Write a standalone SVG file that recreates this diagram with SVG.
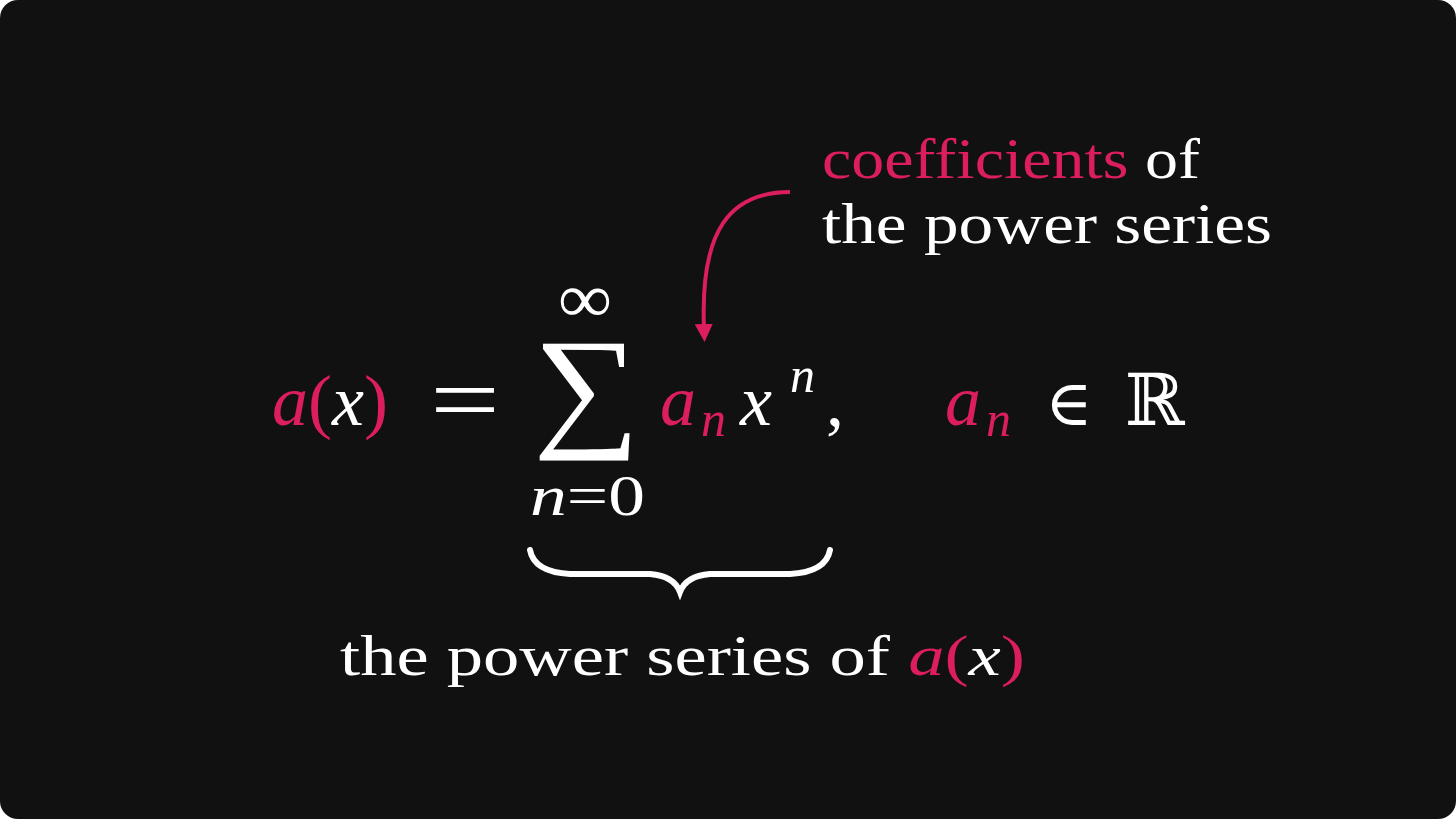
<svg xmlns="http://www.w3.org/2000/svg" width="1456" height="819" viewBox="0 0 1456 819">
<style>
.t{font-family:"Liberation Serif","DejaVu Serif",serif;fill:#fff}
.i{font-style:italic}
.p{fill:#dd1e5e}
</style>
<defs><marker id="ah" markerWidth="18" markerHeight="18" refX="4" refY="9" orient="auto" markerUnits="userSpaceOnUse"><path d="M0,0 L18,9 L0,18 Z" fill="#dd1e5e"/></marker></defs>
<rect width="1456" height="819" fill="#fff"/>
<rect width="1456" height="819" rx="18" fill="#111"/>
<g id="equation">
<text class="t" x="272" y="425" font-size="72"><tspan class="i p">a</tspan><tspan class="p">(</tspan><tspan class="i">x</tspan><tspan class="p">)</tspan></text>
<text class="t" x="430" y="432" font-size="96" textLength="70" lengthAdjust="spacingAndGlyphs">=</text>
<text class="t" x="533" y="432" font-size="135" textLength="107" lengthAdjust="spacingAndGlyphs">∑</text>
<text class="t" x="558" y="322" font-size="70" textLength="54" lengthAdjust="spacingAndGlyphs">∞</text>
<text class="t" x="530" y="515" font-size="56" textLength="115" lengthAdjust="spacingAndGlyphs"><tspan class="i">n</tspan>=0</text>
<text class="t i p" x="660" y="425" font-size="72">a</text>
<text class="t i p" x="701" y="436" font-size="50">n</text>
<text class="t i" x="740" y="425" font-size="72">x</text>
<text class="t i" x="790" y="392" font-size="50">n</text>
<text class="t" x="826" y="425" font-size="72">,</text>
<text class="t i p" x="945" y="425" font-size="72">a</text>
<text class="t i p" x="986" y="436" font-size="50">n</text>
<text class="t" x="1045" y="425" font-size="64">∈</text>
<text class="t" x="1125" y="425" font-size="72">ℝ</text>
</g>
<g id="brace">
<path d="M530,550 Q534,572 570,574 L650,574 Q674,576 680,592 Q686,576 710,574 L790,574 Q826,572 830,550" fill="none" stroke="#fff" stroke-width="6" stroke-linecap="round"/>
</g>
<g id="label-bottom">
<text class="t" x="340" y="675" font-size="58" textLength="685" lengthAdjust="spacingAndGlyphs">the power series of <tspan class="i p">a</tspan><tspan class="p">(</tspan><tspan class="i">x</tspan><tspan class="p">)</tspan></text>
</g>
<g id="label-top">
<text class="t" x="822" y="178" font-size="56" textLength="378" lengthAdjust="spacingAndGlyphs"><tspan class="p">coefficients</tspan> of</text>
<text class="t" x="822" y="243" font-size="56" textLength="450" lengthAdjust="spacingAndGlyphs">the power series</text>
</g>
<g id="connectors">
<path d="M790,192 C730,192 700,230 704,328" fill="none" stroke="#dd1e5e" stroke-width="4" marker-end="url(#ah)"/>
</g>
</svg>
